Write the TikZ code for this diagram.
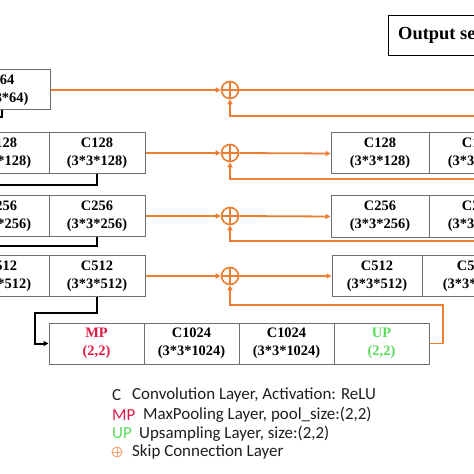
\documentclass[tikz,border=0pt]{standalone}
\usepackage{fontspec}
\setmainfont{Liberation Serif}
\newfontfamily\legfont{Carlito}
\usetikzlibrary{arrows.meta}
\definecolor{org}{RGB}{237,125,49}
\definecolor{mpred}{RGB}{225,25,70}
\definecolor{upgreen}{RGB}{90,220,90}
\definecolor{boxgray}{RGB}{110,110,110}
\definecolor{legtext}{RGB}{30,30,30}
\begin{document}
\begin{tikzpicture}[x=1bp,y=-1bp,
  layer/.style={draw=boxgray, line width=1bp, minimum height=41bp, minimum width=96bp, inner sep=0pt, align=center, font=\fontsize{14.5}{18}\selectfont\bfseries},
  sk/.style={circle, draw=org, line width=1.6bp, minimum size=17bp, inner sep=0pt,
    path picture={\draw[org,line width=1.6bp] (path picture bounding box.north) -- (path picture bounding box.south) (path picture bounding box.west) -- (path picture bounding box.east);}},
  oline/.style={draw=org, line width=1.8bp},
  oarr/.style={oline, -{Triangle[length=5bp,width=5bp]}},
  bline/.style={draw=black, line width=2bp},
  barr/.style={bline, -{Triangle[length=5bp,width=5bp]}},
  leg/.style={font=\legfont\fontsize{17}{19}\selectfont, text=legtext, anchor=west, inner sep=0pt}
]
\clip (0,0) rectangle (474,474);
\fill[white] (0,0) rectangle (474,474);

% output label
\node[draw=black, line width=1.2bp, minimum height=40bp, minimum width=130bp, anchor=north west, inner sep=0pt] (outbox) at (388,15) {};
\node[anchor=west, inner sep=0pt, font=\fontsize{18.5}{20}\selectfont\bfseries] (outtxt) at (398,35.5) {Output segmentation};

% row 0
\node[layer, minimum height=40bp] (r0b) at (2,90) {C64\\(3*3*64)};
% row 1
\node[layer] (r1a) at (1,153) {C128\\(3*3*128)};
\node[layer] (r1b) at (97,153) {C128\\(3*3*128)};
\node[layer, minimum width=98bp] (r1c) at (380,153.5) {C128\\(3*3*128)};
\node[layer, minimum width=98bp] (r1d) at (478,153.5) {C128\\(3*3*128)};
% row 2
\node[layer] (r2a) at (1,216) {C256\\(3*3*256)};
\node[layer] (r2b) at (97,216) {C256\\(3*3*256)};
\node[layer, minimum width=98bp] (r2c) at (380,216.5) {C256\\(3*3*256)};
\node[layer, minimum width=98bp] (r2d) at (478,216.5) {C256\\(3*3*256)};
% row 3
\node[layer] (r3a) at (1,276) {C512\\(3*3*512)};
\node[layer] (r3b) at (97,276) {C512\\(3*3*512)};
\node[layer, minimum width=90bp] (r3c) at (377,276) {C512\\(3*3*512)};
\node[layer, minimum width=102bp] (r3d) at (473,276) {C512\\(3*3*512)};
% bottom
\node[layer, minimum width=95bp, text=mpred] (mp) at (96.5,343.5) {MP\\(2,2)};
\node[layer, minimum width=95bp] (c1) at (191.5,343.5) {C1024\\(3*3*1024)};
\node[layer, minimum width=95bp] (c2) at (286.5,343.5) {C1024\\(3*3*1024)};
\node[layer, minimum width=95bp, text=upgreen] (up) at (381.5,343.5) {UP\\(2,2)};

% skip circles
\node[sk] (s0) at (230,90) {};
\node[sk] (s1) at (230,153) {};
\node[sk] (s2) at (230,216) {};
\node[sk] (s3) at (230,276) {};

% offscreen coordinates
\coordinate (e0) at (490,90);
\coordinate (f0) at (490,116);
\coordinate (f1) at (490,179);
\coordinate (f2) at (490,241);
\coordinate (l0) at (-10,117);
\coordinate (l1) at (-10,185);
\coordinate (l2) at (-10,246);

% orange skip lines
\draw[oarr] (r0b.east) -- (s0.west);
\draw[oline] (s0.east) -- (e0);
\draw[oarr] (f0) -| (s0.south);
\draw[oarr] (r1b.east) -- (s1.west);
\draw[oarr] (s1.east) -- (r1c.west);
\draw[oarr] (f1) -| (s1.south);
\draw[oarr] (r2b.east) -- (s2.west);
\draw[oarr] (s2.east) -- (r2c.west);
\draw[oarr] (f2) -| (s2.south);
\draw[oarr] (r3b.east) -- (s3.west);
\draw[oarr] (s3.east) -- (r3c.west);
\draw[oarr] (up.east) -- (443,343.5) -- (443,305) -| (s3.south);

% black down paths
\draw[bline] (r0b.south) |- (l0);
\draw[bline] (r1b.south) |- (l1);
\draw[bline] (r2b.south) |- (l2);
\draw[barr] (r3b.south) -- (97,313) -- (35,313) |- (mp.west);

% legend
\node[leg] (lc) at (112,395) {C};
\node[leg] (lct) at (132,395) {Convolution Layer, Activation: ReLU};
\node[leg, text=mpred] (lmp) at (112,415) {MP};
\node[leg] (lmpt) at (143,415) {MaxPooling Layer, pool\_size:(2,2)};
\node[leg, text=upgreen] (lup) at (112,433.5) {UP};
\node[leg] (lupt) at (139,433.5) {Upsampling Layer, size:(2,2)};
\node[circle, draw=org!70, line width=0.9bp, minimum size=10bp, inner sep=0pt,
  path picture={\draw[org!70,line width=0.9bp] (path picture bounding box.north) -- (path picture bounding box.south) (path picture bounding box.west) -- (path picture bounding box.east);}] (lsk) at (117,452) {};
\node[leg] (lskt) at (132,452) {Skip Connection Layer};
\end{tikzpicture}
\end{document}
